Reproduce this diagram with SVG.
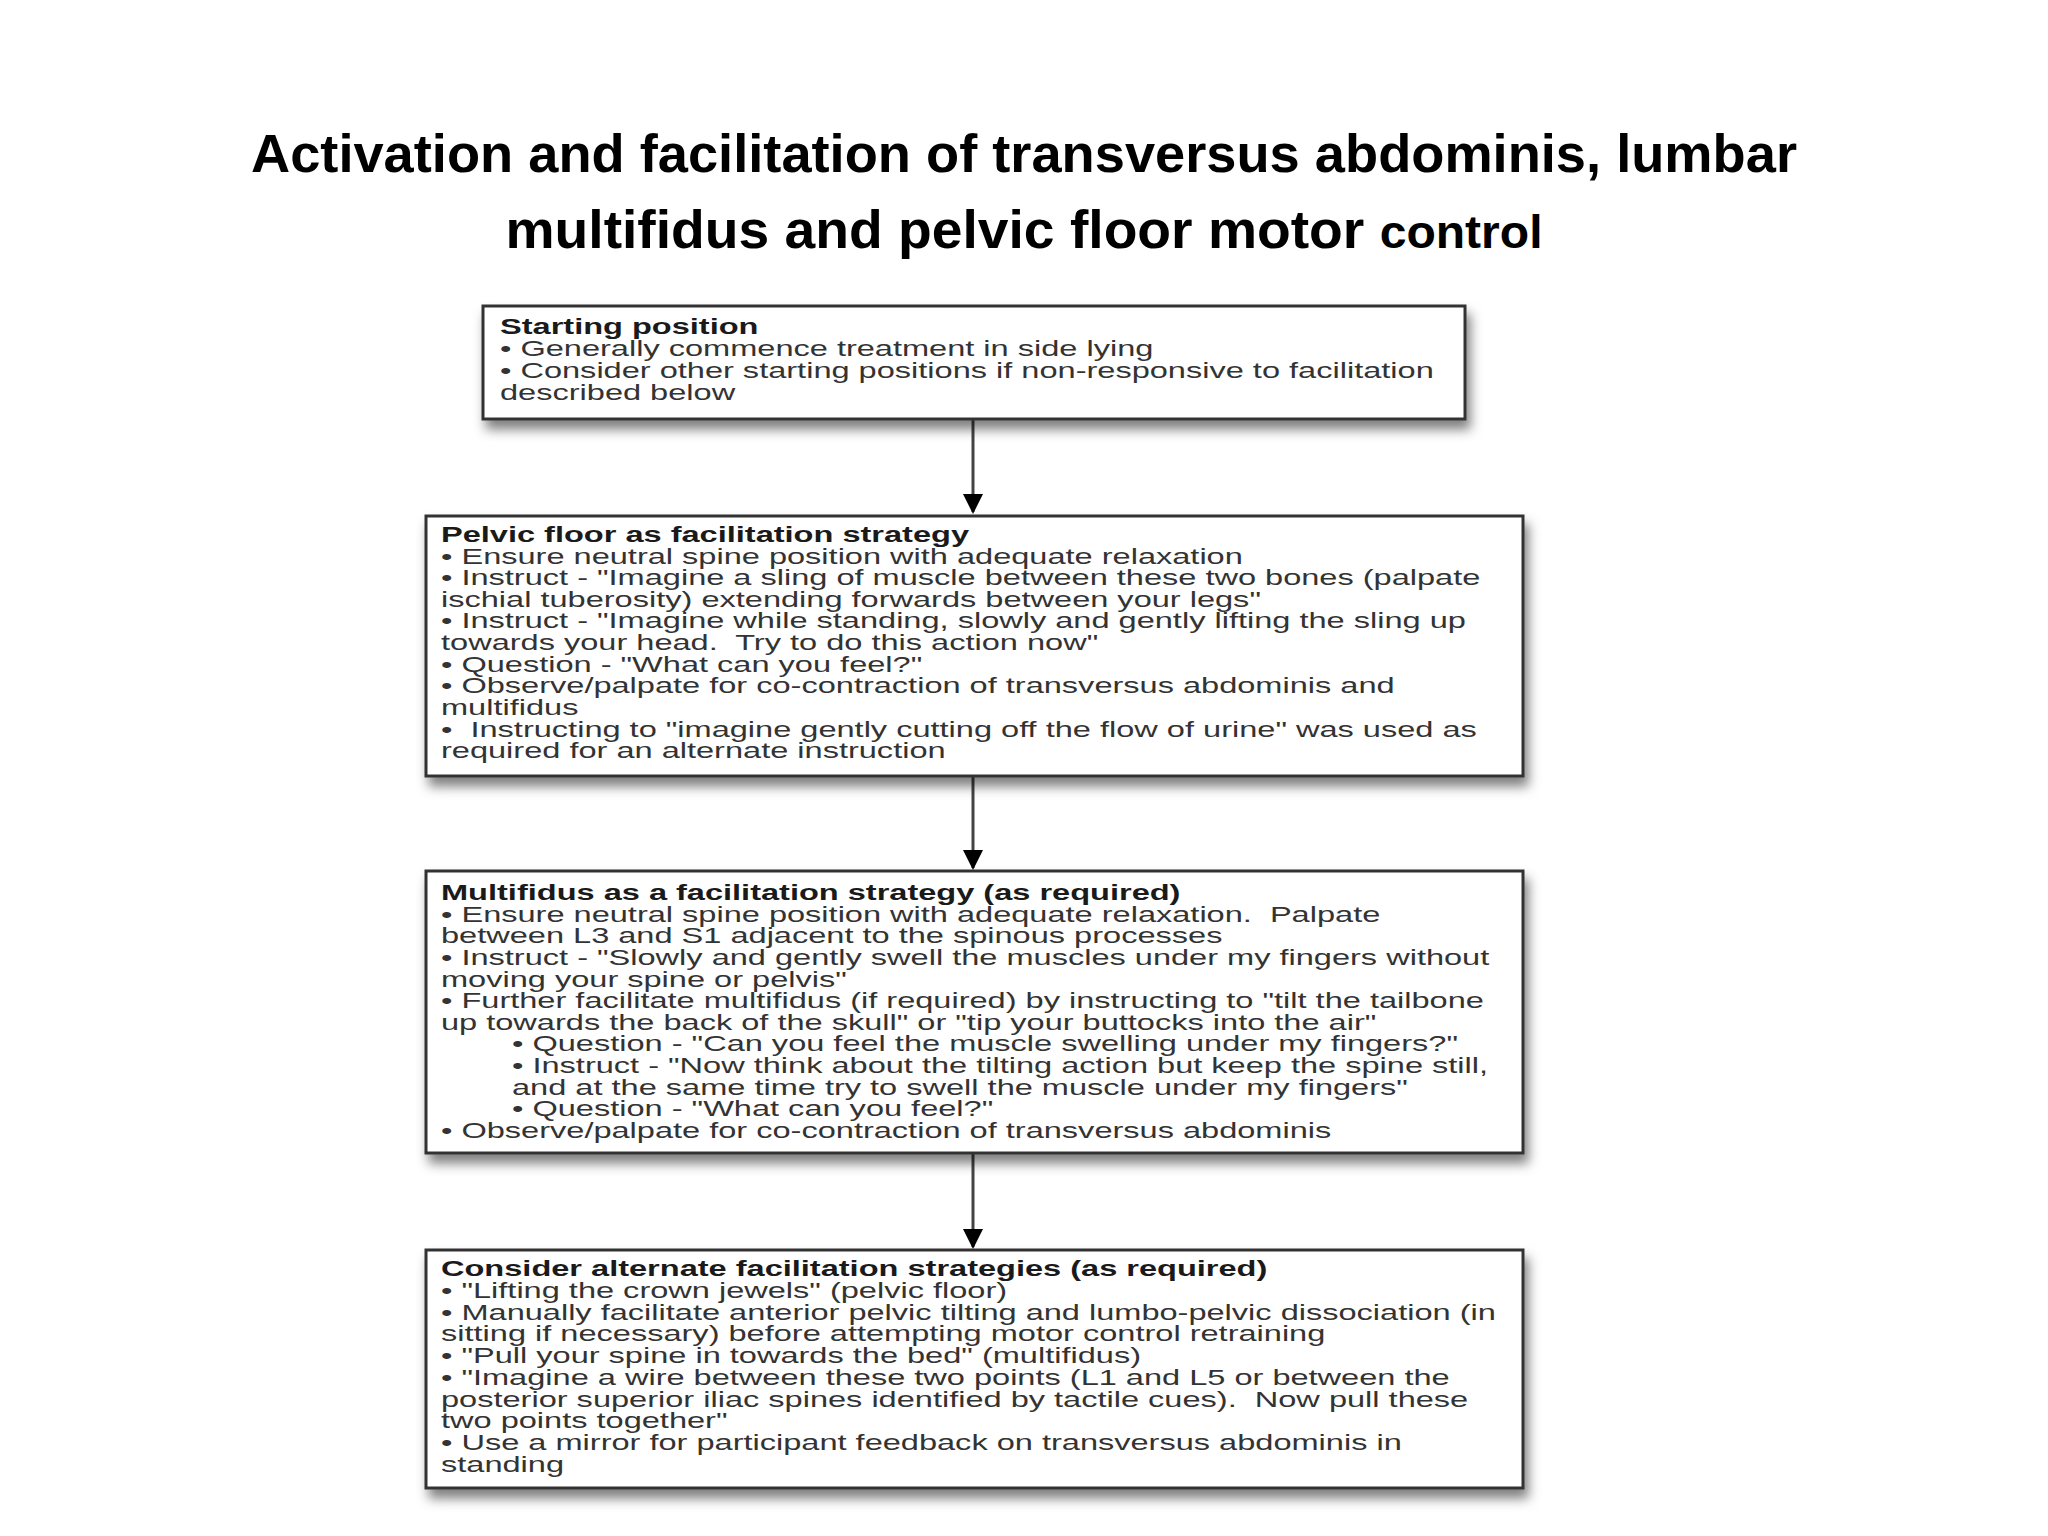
<svg xmlns="http://www.w3.org/2000/svg" width="2048" height="1536" viewBox="0 0 2048 1536">
<style>
.title{font-family:"Liberation Sans",Arial,sans-serif;font-weight:bold;font-size:54px;fill:#000}
.box{fill:#fff;stroke:#333;stroke-width:3}
.t{font-family:"Liberation Sans",Arial,sans-serif;font-size:22px;fill:#333}
.h{font-weight:bold;fill:#1a1a1a}
.conn{stroke:#444;stroke-width:3;fill:none}
</style>
<defs>
<filter id="sh" x="-5%" y="-10%" width="112%" height="130%">
<feDropShadow dx="4" dy="9" stdDeviation="6" flood-color="#000" flood-opacity="0.5"/>
</filter>
<marker id="ah2" viewBox="0 0 10 10" refX="9" refY="5" markerWidth="20" markerHeight="20" markerUnits="userSpaceOnUse" orient="auto">
<path d="M0,0 L10,5 L0,10 z" fill="#000"/>
</marker>
</defs>
<rect width="2048" height="1536" fill="#fff"/>
<g id="title">
<text class="title" x="1024" y="172" text-anchor="middle" textLength="1546" lengthAdjust="spacingAndGlyphs">Activation and facilitation of transversus abdominis, lumbar</text>
<text class="title" x="1024" y="248" text-anchor="middle" textLength="1037" lengthAdjust="spacingAndGlyphs">multifidus and pelvic floor motor <tspan font-size="47">control</tspan></text>
</g>
<g id="connectors">
<line class="conn" x1="973" y1="419" x2="973" y2="512" marker-end="url(#ah2)"/>
<line class="conn" x1="973" y1="776" x2="973" y2="868" marker-end="url(#ah2)"/>
<line class="conn" x1="973" y1="1153" x2="973" y2="1247" marker-end="url(#ah2)"/>
</g>
<g id="node-start">
<rect class="box" x="483" y="306" width="982" height="113" filter="url(#sh)"/>
<g class="t" transform="translate(500,0) scale(1.48,1)">
<text x="0" y="334" class="h">Starting position</text>
<text x="0" y="356">• Generally commence treatment in side lying</text>
<text x="0" y="378">• Consider other starting positions if non-responsive to facilitation</text>
<text x="0" y="400">described below</text>
</g>
</g>
<g id="node-pelvic">
<rect class="box" x="426" y="516" width="1097" height="260" filter="url(#sh)"/>
<g class="t" transform="translate(441,0) scale(1.48,1)">
<text x="0" y="542" class="h">Pelvic floor as facilitation strategy</text>
<text x="0" y="564">• Ensure neutral spine position with adequate relaxation</text>
<text x="0" y="585">• Instruct - "Imagine a sling of muscle between these two bones (palpate</text>
<text x="0" y="607">ischial tuberosity) extending forwards between your legs"</text>
<text x="0" y="628">• Instruct - "Imagine while standing, slowly and gently lifting the sling up</text>
<text x="0" y="650" xml:space="preserve">towards your head.  Try to do this action now"</text>
<text x="0" y="672">• Question - "What can you feel?"</text>
<text x="0" y="693">• Observe/palpate for co-contraction of transversus abdominis and</text>
<text x="0" y="715">multifidus</text>
<text x="0" y="737" xml:space="preserve">•  Instructing to "imagine gently cutting off the flow of urine" was used as</text>
<text x="0" y="758">required for an alternate instruction</text>
</g>
</g>
<g id="node-multifidus">
<rect class="box" x="426" y="871" width="1097" height="282" filter="url(#sh)"/>
<g class="t" transform="translate(441,0) scale(1.48,1)">
<text x="0" y="900" class="h">Multifidus as a facilitation strategy (as required)</text>
<text x="0" y="922" xml:space="preserve">• Ensure neutral spine position with adequate relaxation.  Palpate</text>
<text x="0" y="943">between L3 and S1 adjacent to the spinous processes</text>
<text x="0" y="965">• Instruct - "Slowly and gently swell the muscles under my fingers without</text>
<text x="0" y="987">moving your spine or pelvis"</text>
<text x="0" y="1008">• Further facilitate multifidus (if required) by instructing to "tilt the tailbone</text>
<text x="0" y="1030">up towards the back of the skull" or "tip your buttocks into the air"</text>
<text x="48" y="1051">• Question - "Can you feel the muscle swelling under my fingers?"</text>
<text x="48" y="1073">• Instruct - "Now think about the tilting action but keep the spine still,</text>
<text x="48" y="1095">and at the same time try to swell the muscle under my fingers"</text>
<text x="48" y="1116">• Question - "What can you feel?"</text>
<text x="0" y="1138">• Observe/palpate for co-contraction of transversus abdominis</text>
</g>
</g>
<g id="node-alternate">
<rect class="box" x="426" y="1250" width="1097" height="238" filter="url(#sh)"/>
<g class="t" transform="translate(441,0) scale(1.48,1)">
<text x="0" y="1276" class="h">Consider alternate facilitation strategies (as required)</text>
<text x="0" y="1298">• "Lifting the crown jewels" (pelvic floor)</text>
<text x="0" y="1320">• Manually facilitate anterior pelvic tilting and lumbo-pelvic dissociation (in</text>
<text x="0" y="1341">sitting if necessary) before attempting motor control retraining</text>
<text x="0" y="1363">• "Pull your spine in towards the bed" (multifidus)</text>
<text x="0" y="1385">• "Imagine a wire between these two points (L1 and L5 or between the</text>
<text x="0" y="1407" xml:space="preserve">posterior superior iliac spines identified by tactile cues).  Now pull these</text>
<text x="0" y="1428">two points together"</text>
<text x="0" y="1450">• Use a mirror for participant feedback on transversus abdominis in</text>
<text x="0" y="1472">standing</text>
</g>
</g>
</svg>
